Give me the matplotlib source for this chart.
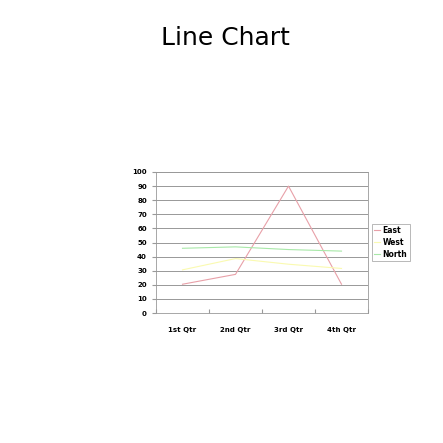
import matplotlib
matplotlib.use("Agg")
import matplotlib.pyplot as plt

categories = ["1st Qtr", "2nd Qtr", "3rd Qtr", "4th Qtr"]
east = [20.4, 27.4, 90, 20.4]
west = [30.6, 38.6, 34.6, 31.6]
north = [45.9, 46.9, 45.0, 43.9]

fig = plt.figure(figsize=(4.43, 4.43), dpi=100)
W = H = 443
ax = fig.add_axes([156/W, 1-313/H, 212/W, 141/H])
x = [0.5, 1.5, 2.5, 3.5]
ax.plot(x, east, color="#e8a0a8", lw=0.8, label="East")
ax.plot(x, west, color="#fafab0", lw=0.8, label="West")
ax.plot(x, north, color="#a8e8a8", lw=0.8, label="North")
ax.set_xlim(0, 4)
ax.set_ylim(0, 100)
ax.set_yticks(range(0, 101, 10))
ax.set_xticks([0, 1, 2, 3, 4], minor=False)
ax.set_xticklabels([])
ax.set_xticks(x, minor=True)
ax.set_xticklabels(categories, minor=True, fontsize=5, fontweight="bold")
ax.tick_params(axis="x", which="minor", length=0, pad=10)
ax.tick_params(axis="x", which="major", length=3, direction="in", color="#999999")
ax.tick_params(axis="y", labelsize=5, length=3, color="#999999")
for t in ax.get_yticklabels():
    t.set_fontweight("bold")
ax.grid(axis="y", color="#888888", lw=0.6)
for s in ax.spines.values():
    s.set_color("#999999"); s.set_linewidth(0.6)
leg = ax.legend(loc="center left", bbox_to_anchor=(1.0, 0.5), fontsize=5.5,
                frameon=True, fancybox=False, handlelength=0.8, handletextpad=0.3,
                borderpad=0.3, labelspacing=0.4, prop={"weight": "bold", "size": 5.5})
leg.get_frame().set_edgecolor("#999999"); leg.get_frame().set_linewidth(0.6)
fig.text(225/W, 1-38/H, "Line Chart", ha="center", va="center", fontsize=18,
         family=["Liberation Sans Narrow", "DejaVu Sans"])
fig.savefig("out.png", dpi=100)
